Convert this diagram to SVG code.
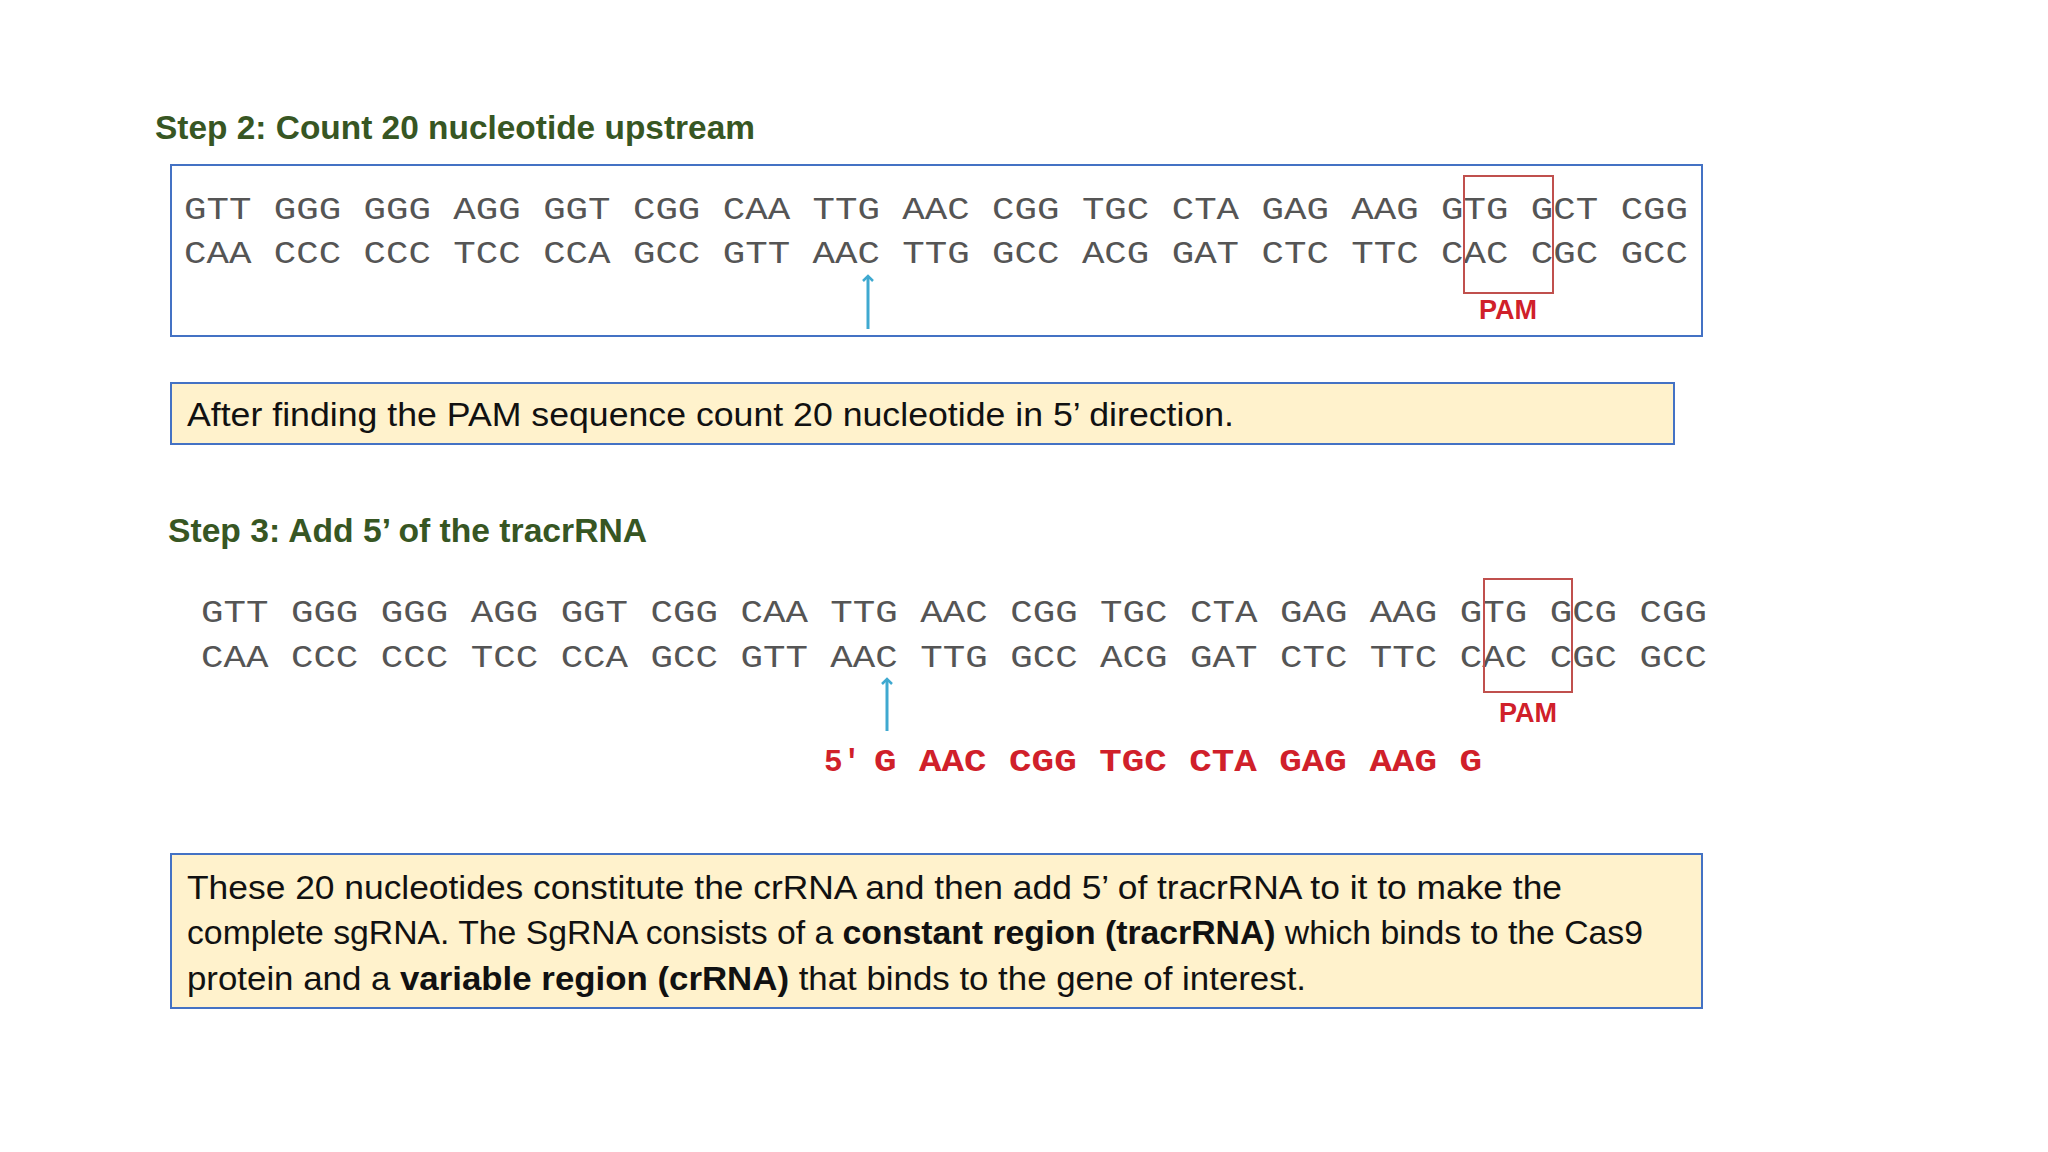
<svg xmlns="http://www.w3.org/2000/svg" width="2048" height="1152" viewBox="0 0 2048 1152">
<style>
.title{font-family:"Liberation Sans",Arial,sans-serif;font-weight:bold;font-size:33px;fill:#375623}
.seq{font-family:"Liberation Mono","Courier New",monospace;font-size:31px;fill:#555}
.box{fill:#fff;stroke:#4472C4;stroke-width:2}
.note{fill:#FFF2CC;stroke:#4472C4;stroke-width:2}
.txt{font-family:"Liberation Sans",Arial,sans-serif;font-size:33px;fill:#111}
.pam{fill:none;stroke:#C0504D;stroke-width:2}
.pamt{font-family:"Liberation Sans",Arial,sans-serif;font-weight:bold;font-size:27px;fill:#D0202A;text-anchor:middle}
.red{font-family:"Liberation Mono","Courier New",monospace;font-weight:bold;font-size:31px;fill:#D0202A}
.arr{stroke:#3FA9D0;stroke-width:3;fill:none}
</style>
<defs><marker id="ah" markerWidth="12" markerHeight="12" refX="6" refY="6" orient="auto" markerUnits="userSpaceOnUse"><path d="M1,1 L6,6 L1,11" fill="none" stroke="#3FA9D0" stroke-width="2.5"/></marker></defs>
<g id="step2">
<text class="title" x="155" y="139" textLength="600" lengthAdjust="spacingAndGlyphs">Step 2: Count 20 nucleotide upstream</text>
<rect class="box" x="171" y="165" width="1531" height="171"/>
<text class="seq" x="184" y="219" textLength="1504" lengthAdjust="spacingAndGlyphs">GTT GGG GGG AGG GGT CGG CAA TTG AAC CGG TGC CTA GAG AAG GTG GCT CGG</text>
<text class="seq" x="184" y="263" textLength="1504" lengthAdjust="spacingAndGlyphs">CAA CCC CCC TCC CCA GCC GTT AAC TTG GCC ACG GAT CTC TTC CAC CGC GCC</text>
<rect class="pam" x="1464" y="176" width="89" height="117"/>
<text class="pamt" x="1508" y="319">PAM</text>
</g>
<g id="note1">
<rect class="note" x="171" y="383" width="1503" height="61"/>
<text class="txt" x="187" y="426" textLength="1047" lengthAdjust="spacingAndGlyphs">After finding the PAM sequence count 20 nucleotide in 5’ direction.</text>
</g>
<g id="step3">
<text class="title" x="168" y="542" textLength="479" lengthAdjust="spacingAndGlyphs">Step 3: Add 5’ of the tracrRNA</text>
<text class="seq" x="201" y="622" textLength="1506" lengthAdjust="spacingAndGlyphs">GTT GGG GGG AGG GGT CGG CAA TTG AAC CGG TGC CTA GAG AAG GTG GCG CGG</text>
<text class="seq" x="201" y="667" textLength="1506" lengthAdjust="spacingAndGlyphs">CAA CCC CCC TCC CCA GCC GTT AAC TTG GCC ACG GAT CTC TTC CAC CGC GCC</text>
<rect class="pam" x="1484" y="579" width="88" height="113"/>
<text class="pamt" x="1528" y="722">PAM</text>
<text class="red" x="824" y="771" font-size="24">5'</text>
<text class="red" x="874" y="771" textLength="608" lengthAdjust="spacingAndGlyphs">G AAC CGG TGC CTA GAG AAG G</text>
</g>
<g id="note2">
<rect class="note" x="171" y="854" width="1531" height="154"/>
<text class="txt" x="187" y="899" textLength="1375" lengthAdjust="spacingAndGlyphs">These 20 nucleotides constitute the crRNA and then add 5’ of tracrRNA to it to make the</text>
<text class="txt" x="187" y="944" textLength="1456" lengthAdjust="spacingAndGlyphs">complete sgRNA. The SgRNA consists of a <tspan font-weight="bold">constant region (tracrRNA)</tspan> which binds to the Cas9</text>
<text class="txt" x="187" y="990" textLength="1119" lengthAdjust="spacingAndGlyphs">protein and a <tspan font-weight="bold">variable region (crRNA)</tspan> that binds to the gene of interest.</text>
</g>
<g id="connectors">
<line class="arr" x1="868" y1="329" x2="868" y2="276" marker-end="url(#ah)"/>
<line class="arr" x1="887" y1="731" x2="887" y2="679" marker-end="url(#ah)"/>
</g>
</svg>
